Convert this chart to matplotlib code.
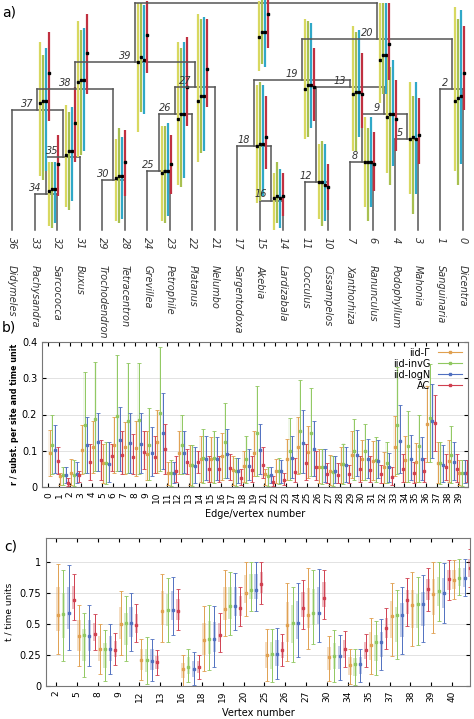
import matplotlib
matplotlib.use("Agg")
import matplotlib.pyplot as plt
from matplotlib.lines import Line2D
import numpy as np

W, H = 474, 719
series = ["iid-Γ", "iid-invG", "iid-logN", "AC"]
colors = ["#e0a050", "#90c860", "#5070c0", "#d04050"]
tree_colors = ["#d8d860", "#a8c050", "#30a8c8", "#c03040"]

# ---------- panel b data ----------
edges = [0,1,2,3,4,5,6,7,8,9,10,11,12,13,14,15,16,17,18,19,21,22,23,24,25,26,27,28,29,30,31,32,33,34,35,36,37,38,39]
r_med = [
 [.093,.030,.038,.103,.110,.067,.115,.110,.108,.090,.123,.038,.095,.060,.078,.077,.085,.047,.058,.093,.035,.045,.077,.110,.096,.056,.045,.063,.088,.076,.073,.055,.110,.075,.068,.175,.067,.072,.040],
 [.115,.032,.033,.172,.188,.067,.195,.182,.185,.115,.203,.040,.115,.060,.080,.080,.125,.043,.078,.150,.030,.045,.100,.155,.148,.055,.042,.063,.100,.100,.075,.065,.172,.112,.112,.190,.067,.088,.040],
 [.103,.032,.036,.115,.125,.063,.130,.122,.118,.093,.148,.040,.095,.057,.078,.076,.091,.045,.058,.103,.032,.045,.080,.122,.104,.056,.043,.062,.089,.078,.072,.055,.127,.078,.077,.183,.062,.070,.040],
 [.072,.012,.033,.068,.075,.086,.089,.083,.096,.082,.105,.045,.069,.069,.050,.049,.052,.026,.047,.062,.013,.018,.042,.067,.056,.035,.033,.035,.049,.047,.035,.027,.050,.040,.045,.177,.055,.050,.040]]
r_up = [
 [.157,.040,.077,.170,.182,.120,.192,.180,.183,.155,.212,.070,.155,.115,.140,.137,.148,.085,.100,.155,.050,.078,.133,.192,.168,.105,.088,.110,.155,.130,.127,.097,.195,.140,.122,.280,.125,.130,.075],
 [.200,.055,.075,.317,.345,.125,.365,.342,.342,.217,.385,.075,.200,.115,.160,.155,.232,.080,.140,.280,.055,.080,.190,.295,.272,.105,.085,.120,.187,.173,.137,.125,.332,.210,.200,.340,.125,.168,.075],
 [.170,.055,.070,.192,.205,.125,.220,.205,.205,.165,.260,.070,.155,.110,.140,.137,.160,.080,.105,.175,.055,.075,.140,.212,.183,.105,.085,.110,.158,.133,.130,.095,.225,.143,.137,.285,.115,.123,.075],
 [.110,.025,.045,.120,.130,.120,.155,.147,.155,.140,.175,.085,.105,.100,.085,.085,.090,.050,.085,.110,.030,.040,.080,.120,.100,.065,.065,.060,.085,.085,.060,.055,.090,.070,.080,.255,.090,.090,.075]]
r_lo = [
 [.030,.005,.005,.035,.040,.010,.040,.035,.030,.020,.040,.005,.035,.005,.015,.015,.020,.005,.015,.030,.005,.010,.020,.035,.025,.010,.005,.010,.025,.020,.020,.010,.030,.015,.015,.070,.010,.015,.005],
 [.035,.005,.003,.040,.045,.008,.045,.040,.035,.020,.045,.004,.035,.004,.012,.012,.025,.004,.012,.030,.004,.008,.020,.040,.030,.008,.004,.008,.020,.020,.015,.010,.035,.015,.015,.070,.008,.012,.004],
 [.040,.010,.010,.040,.045,.015,.045,.040,.040,.030,.050,.010,.040,.010,.020,.020,.025,.010,.020,.035,.010,.012,.025,.040,.030,.015,.010,.015,.030,.025,.025,.015,.040,.020,.020,.080,.015,.020,.010],
 [.035,.003,.015,.020,.020,.045,.035,.035,.050,.040,.035,.015,.035,.040,.015,.015,.020,.005,.015,.025,.003,.005,.015,.020,.020,.010,.010,.010,.015,.015,.010,.005,.015,.010,.015,.100,.020,.015,.015]]

# ---------- panel c data ----------
vertices = [2,5,8,9,12,13,16,18,19,20,25,26,27,30,34,35,37,38,39,40]
t_med = [
 [.57,.40,.30,.50,.21,.60,.14,.37,.62,.75,.25,.49,.57,.23,.17,.33,.56,.65,.74,.85],
 [.58,.41,.30,.51,.21,.61,.15,.38,.64,.77,.26,.51,.59,.24,.18,.35,.57,.66,.76,.87],
 [.59,.40,.30,.51,.20,.61,.14,.38,.64,.77,.26,.51,.59,.24,.18,.35,.57,.66,.75,.87],
 [.69,.42,.29,.49,.19,.60,.15,.41,.63,.82,.29,.63,.71,.30,.29,.47,.69,.78,.86,.95]]
t_up = [
 [.98,.65,.50,.76,.38,.90,.25,.64,.93,1.0,.46,.83,.95,.40,.30,.55,.83,.92,1.0,1.01],
 [.93,.59,.45,.72,.39,.87,.30,.65,.92,1.0,.46,.80,.93,.45,.30,.52,.77,.88,1.0,1.02],
 [.97,.65,.50,.75,.38,.88,.27,.64,.91,1.0,.47,.83,.94,.41,.30,.54,.80,.89,.99,1.02],
 [.90,.58,.43,.66,.29,.78,.25,.59,.80,1.0,.42,.85,.93,.44,.42,.63,.87,.95,1.01,1.10]]
t_lo = [
 [.26,.16,.10,.25,.05,.35,.00,.12,.40,.56,.04,.20,.30,.04,.02,.10,.24,.32,.43,.70],
 [.20,.07,.04,.20,.02,.35,.03,.13,.41,.60,.03,.19,.34,.03,.01,.09,.22,.33,.52,.73],
 [.29,.16,.10,.28,.04,.41,.01,.15,.45,.60,.06,.23,.35,.05,.03,.13,.26,.35,.51,.72],
 [.53,.29,.17,.35,.09,.45,.06,.27,.48,.66,.16,.46,.54,.15,.15,.30,.48,.60,.69,.80]]

# ---------- panel a data ----------
tips = [36,33,32,31,29,28,24,23,22,21,17,15,14,11,10,7,6,4,3,1,0]
tip_names = ["Didymeles","Pachysandra","Sarcococca","Buxus","Trochodendron","Tetracentron",
             "Grevillea","Petrophile","Platanus","Nelumbo","Sargentodoxa","Akebia","Lardizabala",
             "Cocculus","Cissampelos","Xanthorhiza","Ranunculus","Podophyllum","Mahonia",
             "Sanguinaria","Dicentra"]
nodes = {34:(33,32,.16),35:(34,31,.32),37:(36,35,.53),30:(29,28,.22),38:(37,30,.62),
         25:(24,23,.26),26:(25,22,.51),27:(26,21,.63),39:(38,27,.74),
         16:(15,14,.13),18:(17,16,.37),12:(11,10,.21),8:(7,6,.30),5:(4,3,.40),
         9:(8,5,.51),13:(12,9,.63),19:(18,13,.66),2:(1,0,.62),20:(19,2,.84),40:(39,20,1.0)}

fig = plt.figure(figsize=(W/100, H/100), dpi=100)

# ---------- panel a ----------
axa = fig.add_axes([0, 1-300/H, 1, 300/H])
axa.set_xlim(0, W); axa.set_ylim(-0.308, 1.013); axa.axis("off")
xpos = {t: 12 + 22.55*i for i, t in enumerate(tips)}
age = {t: 0.0 for t in tips}
order = [34,35,37,30,38,25,26,27,39,16,18,12,8,5,9,13,19,2,20,40]
for n in order:
    l, r, a = nodes[n]
    xpos[n] = (xpos[l]+xpos[r])/2; age[n] = a
    axa.plot([xpos[l], xpos[r]], [a, a], color="#555555", lw=1.1)
    for c in (l, r):
        axa.plot([xpos[c], xpos[c]], [a, age[c]], color="#555555", lw=1.1)
    if n != 40:
        axa.text(xpos[n]-4, a+0.005, str(n), ha="right", va="bottom", style="italic", fontsize=7, color="#333333")
    if n in vertices:
        j = vertices.index(n)
        for s in range(4):
            xx = xpos[n] + 3 + 3*s
            axa.plot([xx, xx], [t_lo[s][j], t_up[s][j]], color=tree_colors[s], lw=1.6, solid_capstyle="butt")
            axa.plot(xx, t_med[s][j], "s", ms=1.5, color="black")
for i, t in enumerate(tips):
    axa.text(xpos[t], -0.03, str(t), rotation=-90, ha="center", va="top", style="italic", fontsize=7, color="#333333")
    axa.text(xpos[t], -0.155, tip_names[i], rotation=-90, ha="center", va="top", style="italic", fontsize=7, color="#333333")

# ---------- panel b ----------
axb = fig.add_axes([42/W, 1-487/H, (468-42)/W, (487-342)/H])
xb = np.arange(len(edges))
offs = [0.1, 0.35, 0.6, 0.85]
for s in range(4):
    x = xb + offs[s]
    med = np.array(r_med[s]); up = np.array(r_up[s]); lo = np.array(r_lo[s])
    axb.bar(x, up-lo, bottom=lo, width=0.22, color=colors[s], alpha=0.13, linewidth=0)
    axb.errorbar(x, med, yerr=[med-lo, up-med], fmt="s", ms=1.8, color=colors[s], ecolor=colors[s],
                 elinewidth=0.7, capsize=1.5, capthick=0.6)
axb.set_xlim(-0.6, len(edges)-0.1); axb.set_ylim(0, 0.4)
axb.set_xticks(xb); axb.set_xticklabels([str(e) for e in edges], rotation=90, fontsize=6.5)
axb.set_yticks([0, .1, .2, .3, .4]); axb.set_yticklabels(["0","0.1","0.2","0.3","0.4"], fontsize=7)
axb.yaxis.grid(True, color="#dddddd", lw=0.6); axb.set_axisbelow(True)
axb.tick_params(direction="in", length=3, top=True, right=True)
axb.set_ylabel("r / subst. per site and time unit", fontsize=5.8, fontweight="bold", labelpad=2)
axb.set_xlabel("Edge/vertex number", fontsize=7)
handles = [Line2D([0], [0], color=colors[s], lw=0.8, marker="s", ms=2) for s in range(4)]
axb.legend(handles, series, loc="upper right", markerfirst=False, frameon=False, fontsize=7,
           handlelength=2.5, borderaxespad=0.2, labelspacing=0.1)
for sp in axb.spines.values(): sp.set_color("#777777")

# ---------- panel c ----------
axc = fig.add_axes([46/W, 1-686/H, (470-46)/W, (686-538)/H])
xc = np.arange(len(vertices))
for s in range(4):
    x = xc + offs[s]
    med = np.array(t_med[s]); up = np.array(t_up[s]); lo = np.array(t_lo[s])
    q = (up-lo)*0.25
    axc.bar(x, (up-q)-(lo+q), bottom=lo+q, width=0.16, color=colors[s], alpha=0.35, linewidth=0)
    axc.errorbar(x, med, yerr=[med-lo, up-med], fmt="s", ms=1.8, color=colors[s], ecolor=colors[s],
                 elinewidth=0.7, capsize=1.5, capthick=0.6)
axc.set_xlim(-0.48, len(vertices)-0.14); axc.set_ylim(0, 1.19)
axc.set_xticks(xc); axc.set_xticklabels([str(v) for v in vertices], rotation=90, fontsize=6.5)
axc.set_yticks([0, .25, .5, .75, 1]); axc.set_yticklabels(["0","0.25","0.5","0.75","1"], fontsize=7)
axc.yaxis.grid(True, color="#dddddd", lw=0.6); axc.set_axisbelow(True)
axc.tick_params(direction="in", length=3, top=True, right=True)
axc.set_ylabel("t / time units", fontsize=6.5)
axc.set_xlabel("Vertex number", fontsize=7)
for sp in axc.spines.values(): sp.set_color("#777777")

fig.text(2/W, 1-12/H, "a)", fontsize=10, va="center")
fig.text(2/W, 1-328/H, "b)", fontsize=10, va="center")
fig.text(4/W, 1-546/H, "c)", fontsize=10, va="center")

fig.savefig("out.png", dpi=100)
